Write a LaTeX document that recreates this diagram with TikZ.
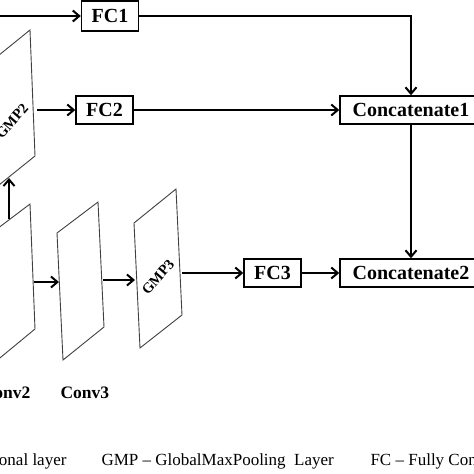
\documentclass[tikz,border=0pt]{standalone}
\usepackage{fontspec}
\setmainfont{Liberation Serif}
\usetikzlibrary{arrows.meta}
\begin{document}
\begin{tikzpicture}[x=1pt,y=-1pt,
  conn/.style={line width=1.8pt,-{Straight Barb[length=6.5pt,width=11pt,line width=2pt]}},
  fcbox/.style={draw,line width=1.4pt,minimum width=57pt,minimum height=28pt,inner sep=0pt,font=\fontsize{20}{20}\selectfont\bfseries},
  catbox/.style={fcbox,minimum width=142pt},
  layer/.style={draw=black!75,line width=0.9pt},
  layertext/.style={font=\fontsize{14.5}{14.5}\selectfont\bfseries,rotate=49},
  caption/.style={font=\fontsize{17.5}{17.5}\selectfont\bfseries},
  legend/.style={font=\fontsize{17}{17}\selectfont}]
\useasboundingbox (0,0) rectangle (474,474);
\clip (0,0) rectangle (474,474);
\fill[white] (0,0) rectangle (474,474);

% boxes
\node[fcbox,minimum height=30pt] (fc1) at (110,16) {FC1};
\node[fcbox] (fc2) at (104.5,110) {FC2};
\node[fcbox] (fc3) at (272.5,273) {FC3};
\node[catbox] (cat1) at (411,110) {Concatenate1};
\node[catbox] (cat2) at (411,273) {Concatenate2};

% layers (parallelograms)
\draw[layer] (-12,64) -- (30,30) -- (35,156) -- (-6,189) -- cycle;
\draw[layer] (-11,235) -- (30,204) -- (35,329) -- (-5,362) -- cycle;
\draw[layer] (57,233) -- (98,202) -- (104,327) -- (63,360) -- cycle;
\draw[layer] (134,223) -- (176,189) -- (182,315) -- (140,348) -- cycle;
\node[layertext] (gmp2t) at (12,121) {GMP2};
\node[layertext] (gmp3t) at (158,277) {GMP3};

% attachment points
\coordinate (gmp1e) at (-20,16);
\coordinate (gmp2e) at (37,110);
\coordinate (conv2t) at (9,219);
\coordinate (gmp2b) at (9,178);
\coordinate (conv2e) at (34,282);
\coordinate (conv3w) at (59,282);
\coordinate (conv3e) at (103,280);
\coordinate (gmp3w) at (135,280);
\coordinate (gmp3e) at (182,273);

% connectors
\draw[conn] (gmp1e) -- (fc1.west);
\draw[conn] (fc1.east) -| (cat1.north);
\draw[conn] (gmp2e) -- (fc2.west);
\draw[conn] (fc2.east) -- (cat1.west);
\draw[conn] (conv2t) -- (gmp2b);
\draw[conn] (conv2e) -- (conv3w);
\draw[conn] (conv3e) -- (gmp3w);
\draw[conn] (gmp3e) -- (fc3.west);
\draw[conn] (fc3.east) -- (cat2.west);
\draw[conn] (cat1.south) -- (cat2.north);

% captions
\node[caption,anchor=east] (c2) at (34,393) {Conv2};
\node[caption,anchor=west] (c3) at (57,393) {Conv3};

% legend
\node[legend,anchor=base east] (l1) at (70,465) {Conv -- Convolutional layer};
\node[legend,anchor=base west] (l2) at (98,465) {GMP -- GlobalMaxPooling\ \ Layer};
\node[legend,anchor=base west] (l3) at (367,465) {FC -- Fully Connected Layer};
\end{tikzpicture}
\end{document}
